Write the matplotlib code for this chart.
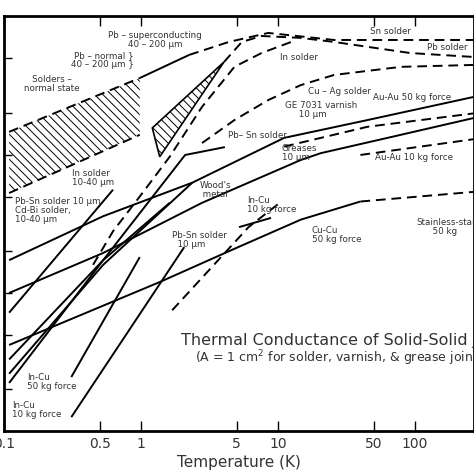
import matplotlib
matplotlib.use("Agg")
import matplotlib.pyplot as plt
from matplotlib.patches import Polygon

# ---- data (T in K, G in arbitrary log units) ----
pbn_T = [0.98, 2.25];            pbn_G = [361, 531]
sn_T = [2.25, 4.38, 8.5, 25.7, 267];   sn_G = [531, 659, 766, 681, 681]
pb_T = [4.04, 5.45, 7.6, 14.7, 25.7, 92, 267]; pb_G = [472, 659, 728, 705, 659, 548, 513]
tri_T = [1.21, 1.37, 4.04];      tri_G = [157, 97, 472]
band_up_T = [0.109, 0.98];       band_up_G = [147, 361]
band_lo_T = [0.109, 0.98];       band_lo_G = [53, 140]
insol_T = [0.447, 0.625, 0.98, 1.62, 2.79, 4.81, 7.6, 12.5]
insol_G = [16, 28, 50, 97, 223, 435, 548, 659]
cuag_T = [2.79, 4.81, 8.5, 14.7, 25.7, 79, 267]; cuag_G = [122, 179, 250, 321, 380, 435, 449]
ge_T = [0.109, 0.53, 2.37, 11.1, 45, 267];  ge_G = [17.3, 36, 63, 133, 179, 263]
au50_T = [11.1, 45, 267];        au50_G = [115, 160, 200]
gr_T = [0.109, 0.53, 2.79, 14.7, 20.5, 79, 267]; gr_G = [10, 19.5, 45, 92, 103, 140, 185]
au10_T = [40, 267];              au10_G = [100, 130]
cucu_T = [0.109, 1.37, 4.6, 14.7, 40]; cucu_G = [4.2, 12, 20.5, 34, 46]
ss_T = [40, 267];                ss_G = [46, 54]
l_a_T = [0.109, 0.625];          l_a_G = [7.2, 56]
l_b_T = [0.109, 0.53, 2.1, 4.1]; l_b_G = [2.23, 17.3, 100, 114]
l_c_T = [0.109, 0.53, 2.37];     l_c_G = [2.6, 16, 63]
l_d_T = [0.109, 0.53, 1.62];     l_d_G = [3.3, 17.3, 45]
incu50_T = [0.31, 0.98];         incu50_G = [2.46, 18.2]
incu10_T = [0.31, 2.07];         incu10_G = [1.26, 21.5]
pbsn_T = [1.69, 6.1, 10.6];      pbsn_G = [7.5, 30, 46]
incu_short_T = [5.2, 8.9];       incu_short_G = [30, 35]
xticks = [0.1, 0.5, 1, 5, 10, 50, 100]
xticklabels = ["0.1", "0.5", "1", "5", "10", "50", "100"]

plt.rcParams["hatch.linewidth"] = 0.7
fig = plt.figure(figsize=(4.74, 4.74), dpi=100)
ax = fig.add_axes([4/474, 43/474, 470/474, 415/474])
ax.set_xscale("log"); ax.set_yscale("log")
ax.set_xlim(0.107, 270); ax.set_ylim(1, 1016)

sol = dict(color="black", lw=1.4, solid_capstyle="butt")
das = dict(color="black", lw=1.4, ls=(0, (5, 3)))
for T, G in [(pbn_T, pbn_G), (ge_T, ge_G), (gr_T, gr_G), (cucu_T, cucu_G),
             (l_a_T, l_a_G), (l_b_T, l_b_G), (l_c_T, l_c_G), (l_d_T, l_d_G),
             (incu50_T, incu50_G), (incu10_T, incu10_G), (incu_short_T, incu_short_G)]:
    ax.plot(T, G, **sol)
for T, G in [(sn_T, sn_G), (pb_T, pb_G), (insol_T, insol_G), (cuag_T, cuag_G),
             (au50_T, au50_G), (au10_T, au10_G), (ss_T, ss_G), (pbsn_T, pbsn_G),
             (band_up_T, band_up_G), (band_lo_T, band_lo_G)]:
    ax.plot(T, G, **das)

band = Polygon(list(zip(band_up_T + band_lo_T[::-1], band_up_G + band_lo_G[::-1])),
               closed=True, facecolor="none", edgecolor="black", hatch="\\\\\\\\", lw=0)
ax.add_patch(band)
tri = Polygon(list(zip(tri_T, tri_G)), closed=True, facecolor="none",
              edgecolor="black", hatch="\\\\\\\\", lw=1.2)
ax.add_patch(tri)

ax.set_xticks(xticks); ax.set_xticklabels(xticklabels, fontsize=10, color="#333")
ax.minorticks_off()
ax.tick_params(axis="x", direction="in", top=True, length=7, width=1, pad=4)
ax.set_yticks([2, 5, 10, 20, 50, 100, 200, 500])
ax.set_yticklabels([])
ax.tick_params(axis="y", direction="in", length=6, width=1, right=False)
for s in ax.spines.values():
    s.set_linewidth(2)
ax.set_xlabel("Temperature (K)", fontsize=11, color="#333", labelpad=3)

def t(x, y, s, ha="left", fs=6.3):
    fig.text(x/474, 1-y/474, s, ha=ha, va="center", fontsize=fs, color="#333", linespacing=1.0)

t(155, 40, "Pb – superconducting\n40 – 200 μm", ha="center")
t(134, 60, "Pb – normal }\n40 – 200 μm }", ha="right")
t(52, 84, "Solders –\nnormal state", ha="center")
t(370, 32, "Sn solder")
t(427, 47, "Pb solder")
t(280, 58, "In solder")
t(308, 92, "Cu – Ag solder")
t(373, 98, "Au-Au 50 kg force")
t(285, 110, "GE 7031 varnish\n     10 μm")
t(228, 135, "Pb– Sn solder")
t(282, 153, "Greases\n10 μm")
t(375, 158, "Au-Au 10 kg force")
t(72, 178, "In solder\n10-40 μm")
t(200, 190, "Wood's\n metal")
t(247, 205, "In-Cu\n10 kg force")
t(15, 211, "Pb-Sn solder 10 μm\nCd-Bi solder,\n10-40 μm")
t(312, 235, "Cu-Cu\n50 kg force")
t(416, 227, "Stainless-stainless\n      50 kg")
t(172, 240, "Pb-Sn solder\n  10 μm")
t(27, 382, "In-Cu\n50 kg force")
t(12, 410, "In-Cu\n10 kg force")
t(181, 340, "Thermal Conductance of Solid-Solid Joints", fs=11.5)
t(195, 358, "(A = 1 cm$^2$ for solder, varnish, & grease joints)", fs=9)

fig.savefig("out.png", dpi=100)
